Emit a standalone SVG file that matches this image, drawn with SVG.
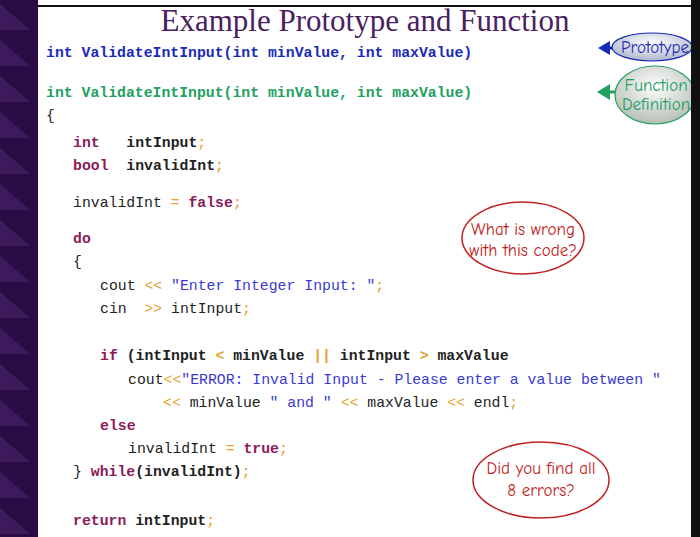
<svg xmlns="http://www.w3.org/2000/svg" width="700" height="537" viewBox="0 0 700 537">
<defs>
<style>
.c{font-family:"Liberation Mono","DejaVu Sans Mono",monospace;font-size:14.8px;fill:#222;white-space:pre;}
.k{fill:#8b1a5a;font-weight:bold}
.b{font-weight:bold}
.o{fill:#e8a030}
.s{fill:#3a3ad0}
.cm{font-family:"Comic Neue","Comic Sans MS","DejaVu Sans",sans-serif;font-size:17px;text-anchor:middle}
</style>
<pattern id="pt" width="38" height="36" patternUnits="userSpaceOnUse">
<rect width="38" height="36" fill="#2b0d45"/>
<path d="M0 4 L30 30 L0 30Z" fill="#3d1a5c"/>
</pattern>
<radialGradient id="gb" cx="0.5" cy="0.35" r="0.7"><stop offset="0" stop-color="#ffffff"/><stop offset="1" stop-color="#a8b0c8"/></radialGradient>
<radialGradient id="gg" cx="0.5" cy="0.35" r="0.7"><stop offset="0" stop-color="#ffffff"/><stop offset="1" stop-color="#b0b8b0"/></radialGradient>
<clipPath id="cp"><rect x="0" y="0" width="691" height="537"/></clipPath>
</defs>
<rect width="700" height="537" fill="#fff"/>
<rect x="0" y="0" width="38" height="537" fill="url(#pt)"/>
<rect x="38" y="5" width="660" height="2" fill="#111"/>
<rect x="691" y="0" width="9" height="537" fill="#111"/>
<text x="365" y="31" text-anchor="middle" font-family="Liberation Serif,serif" font-size="31" fill="#4a2060">Example Prototype and Function</text>
<g id="code" class="c">
<text x="46" y="57" fill="#1a2ab8" font-weight="bold">int ValidateIntInput(int minValue, int maxValue)</text>
<text x="46" y="97" fill="#22a060" font-weight="bold">int ValidateIntInput(int minValue, int maxValue)</text>
<text x="46" y="120">{</text>
<text x="73" y="147"><tspan class="k">int</tspan>&#160;&#160;&#160;<tspan class="b">intInput</tspan><tspan class="o">;</tspan></text>
<text x="73" y="170"><tspan class="k">bool</tspan>&#160;&#160;<tspan class="b">invalidInt</tspan><tspan class="o">;</tspan></text>
<text x="73" y="207">invalidInt <tspan class="o">=</tspan> <tspan class="k">false</tspan><tspan class="o">;</tspan></text>
<text x="73" y="243" class="k">do</text>
<text x="73" y="266">{</text>
<text x="100" y="290">cout <tspan class="o">&lt;&lt;</tspan> <tspan class="s">"Enter Integer Input: "</tspan><tspan class="o">;</tspan></text>
<text x="100" y="313">cin&#160;&#160;<tspan class="o">&gt;&gt;</tspan> intInput<tspan class="o">;</tspan></text>
<text x="100" y="360"><tspan class="k">if</tspan> <tspan class="b">(intInput <tspan class="o">&lt;</tspan> minValue <tspan class="o">||</tspan> intInput <tspan class="o">&gt;</tspan> maxValue</tspan></text>
<text x="128" y="384">cout<tspan class="o">&lt;&lt;</tspan><tspan class="s">"ERROR: Invalid Input - Please enter a value between "</tspan></text>
<text x="163" y="407"><tspan class="o">&lt;&lt;</tspan> minValue <tspan class="s">" and "</tspan> <tspan class="o">&lt;&lt;</tspan> maxValue <tspan class="o">&lt;&lt;</tspan> endl<tspan class="o">;</tspan></text>
<text x="100" y="430" class="k">else</text>
<text x="128" y="453">invalidInt <tspan class="o">=</tspan> <tspan class="k">true</tspan><tspan class="o">;</tspan></text>
<text x="73" y="476">} <tspan class="k">while</tspan><tspan class="b">(invalidInt)</tspan><tspan class="o">;</tspan></text>
<text x="73" y="525"><tspan class="k">return</tspan> <tspan class="b">intInput</tspan><tspan class="o">;</tspan></text>
</g>
<g id="connectors">
<path d="M612 48 H606" stroke="#1a2ab8" stroke-width="3"/>
<polygon points="598,48 610,41 610,55" fill="#1a2ab8"/>
<path d="M615 92 H608" stroke="#22a060" stroke-width="3"/>
<polygon points="597,92 610,84 610,100" fill="#22a060"/>
</g>
<g id="prototype" clip-path="url(#cp)">
<ellipse cx="652" cy="47" rx="40" ry="14" fill="url(#gb)" stroke="#1a2ab8" stroke-width="1.2"/>
<text x="655" y="53" class="cm" fill="#1a2ab8">Prototype</text>
</g>
<g id="definition" clip-path="url(#cp)">
<ellipse cx="655" cy="95" rx="40" ry="29" fill="url(#gg)" stroke="#22a060" stroke-width="1.2"/>
<text x="656" y="91" class="cm" fill="#22a060">Function</text>
<text x="656" y="110" class="cm" fill="#22a060">Definition</text>
</g>
<g id="wrong">
<ellipse cx="523" cy="238" rx="61" ry="36" fill="#fff" stroke="#c02020" stroke-width="1.5"/>
<text x="523" y="235" class="cm" fill="#c02020">What is wrong</text>
<text x="523" y="256" class="cm" fill="#c02020">with this code?</text>
</g>
<g id="errors">
<ellipse cx="541" cy="480" rx="68" ry="38" fill="#fff" stroke="#c02020" stroke-width="1.5"/>
<text x="541" y="474" class="cm" fill="#c02020">Did you find all</text>
<text x="541" y="496" class="cm" fill="#c02020">8 errors?</text>
</g>
</svg>
